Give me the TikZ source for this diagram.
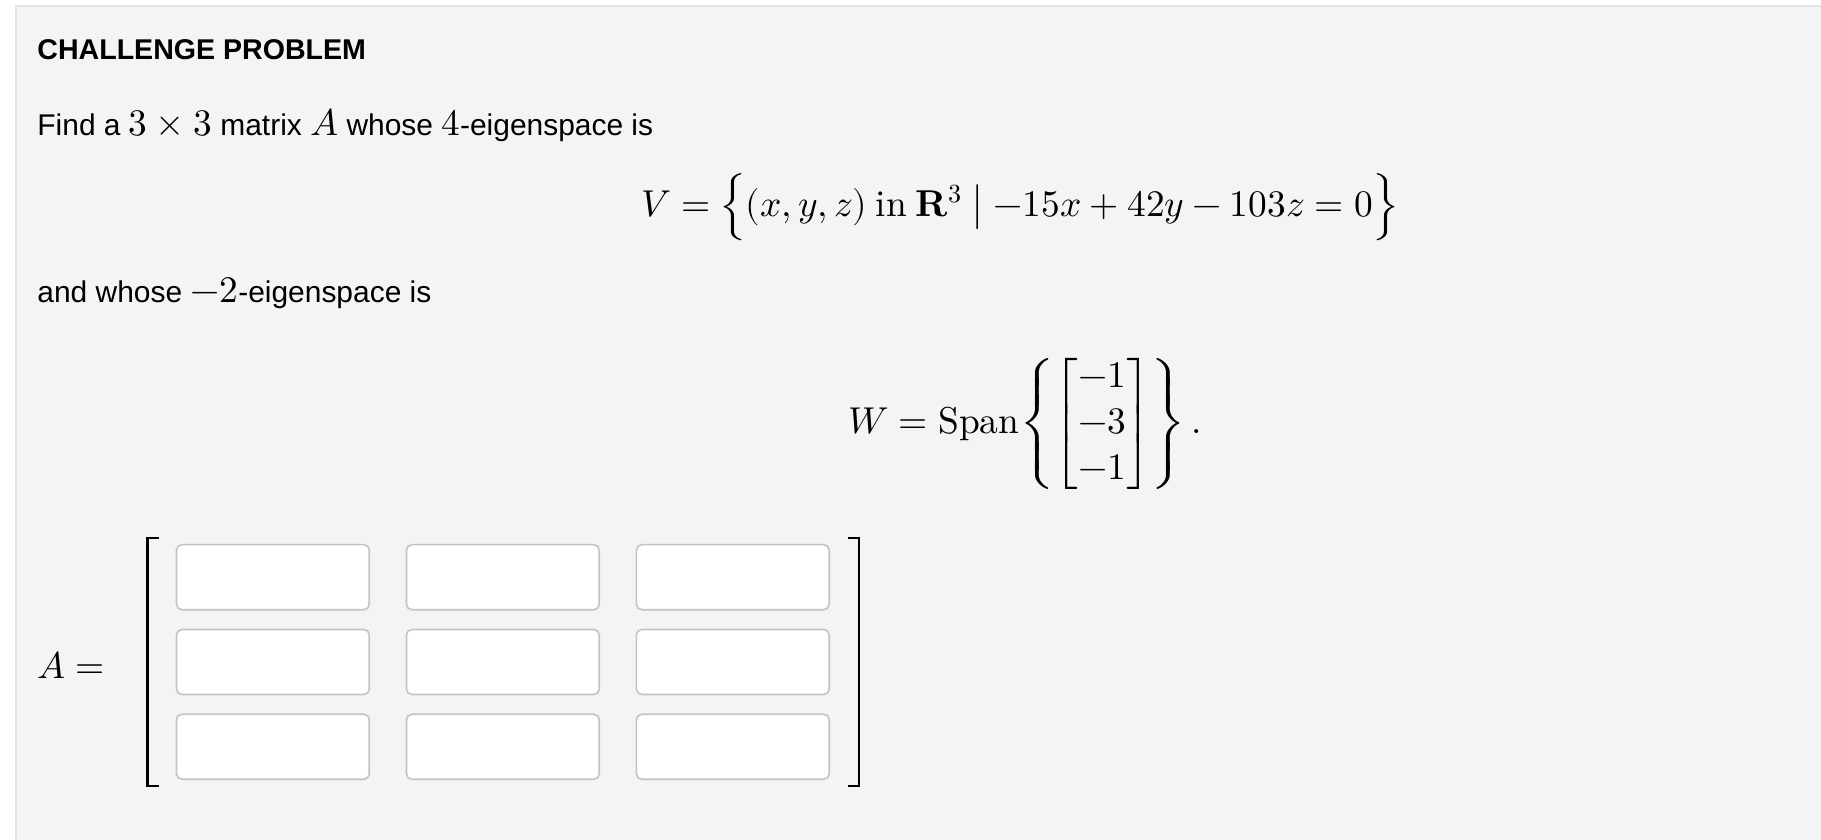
\documentclass[tikz,border=0pt]{standalone}
\usepackage{amsmath}
\usepackage{fontspec}
\setmainfont{Liberation Sans}
\usepackage{unicode-math}
\setmathfont[Scale=1.25]{Latin Modern Math}
\definecolor{panel}{HTML}{F4F4F4}
\definecolor{edge}{HTML}{E2E2E2}
\definecolor{boxline}{HTML}{C4C4C4}
\tikzset{
  txt/.style={anchor=west,inner sep=0pt,font=\fontsize{22}{26}\selectfont},
  cell/.style={draw=boxline,line width=1.2pt,fill=white,rounded corners=4pt},
  brk/.style={line width=1.6pt}
}
\begin{document}
\begin{tikzpicture}[x=0.3mm,y=-0.3mm]
\useasboundingbox (0,0) rectangle (1568,723);
\fill[white] (0,0) rectangle (1568,723);
\fill[panel] (14,5) rectangle (1568,723);
\draw[edge,line width=1.5pt] (14,723) -- (14,5) -- (1568,5);
\node[txt,font=\fontsize{21}{26}\selectfont\bfseries] (title) at (32,43) {CHALLENGE PROBLEM};
\node[txt] (l1) at (32,108) {Find a $3\times3$ matrix $A$ whose $4$-eigenspace is};
\node[txt,anchor=center] (v) at (878,178) {$V=\Bigl\{(x,y,z)\ \symup{in}\ \symbf{R}^3\bigm|-15x+42y-103z=0\Bigr\}$};
\node[txt] (l2) at (32,252) {and whose $-2$-eigenspace is};
\node[txt] (w) at (730,365) {\renewcommand{\arraystretch}{1.3}$W=\symup{Span}\!\left\{\begin{bmatrix}-1\\-3\\-1\end{bmatrix}\right\}.$};
\node[txt] (a) at (32,573) {$A=$};
\draw[brk] (137,463) -- (127,463) -- (127,677) -- (137,677);
\draw[brk] (730,463) -- (740,463) -- (740,677) -- (730,677);
\foreach \r/\y in {1/469,2/542,3/615}
  \foreach \c/\x in {1/152,2/350,3/548}
    \draw[cell] (\x,\y) rectangle ++(166,56) coordinate (c\r\c);
\end{tikzpicture}
\end{document}
